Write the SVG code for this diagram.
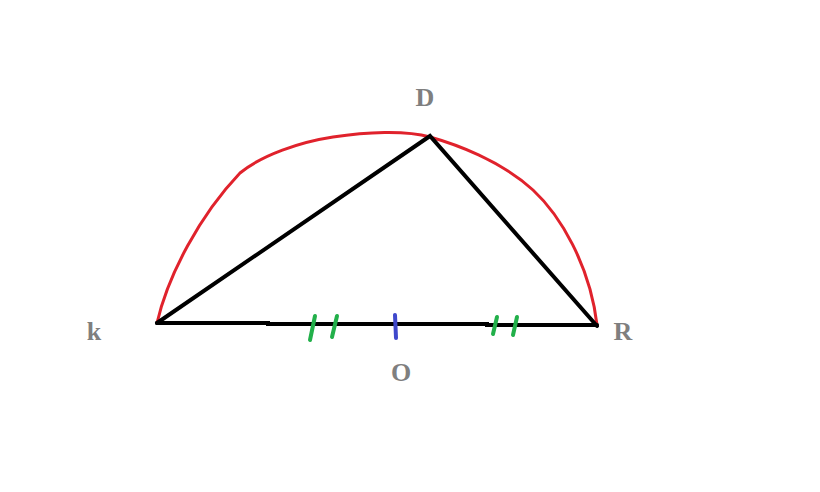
<svg xmlns="http://www.w3.org/2000/svg" width="820" height="492" viewBox="0 0 820 492">
<style>
.lbl{font-family:"Liberation Serif","DejaVu Serif",serif;font-weight:bold;font-size:26px;fill:#7f7f7f;text-anchor:middle}
.edge{stroke:#000;stroke-width:4;fill:none;stroke-linecap:round;stroke-linejoin:miter}
.arc{stroke:#e0222c;stroke-width:3;fill:none;stroke-linecap:round;stroke-linejoin:round}
.tick{stroke:#22b04a;stroke-width:4;stroke-linecap:round}
.mid{stroke:#3f48cc;stroke-width:4;stroke-linecap:round}
</style>
<rect width="820" height="492" fill="#fff"/>
<g id="connectors">
<path class="arc" d="M157,323 C168,275 200,215 240,173 C262,155 300,142 333,137 C366,132 405,130 430,137 C455,144 500,160 533,190 C560,215 590,265 597,325"/>
<path class="edge" d="M157,323 L430,136 L597,326"/>
<path class="edge" d="M157,323 L268,323 L268,324 L487,324 L487,325 L597,325"/>
<line class="tick" x1="310" y1="340" x2="315" y2="316"/>
<line class="tick" x1="332" y1="337" x2="337" y2="316"/>
<line class="mid" x1="395" y1="315" x2="396" y2="338"/>
<line class="tick" x1="493" y1="334" x2="497" y2="317"/>
<line class="tick" x1="513" y1="335" x2="517" y2="317"/>
</g>
<g id="node-D"><text class="lbl" x="425" y="106">D</text></g>
<g id="node-k"><text class="lbl" x="94" y="340">k</text></g>
<g id="node-R"><text class="lbl" x="623" y="340">R</text></g>
<g id="node-O"><text class="lbl" x="401" y="381">O</text></g>
</svg>
